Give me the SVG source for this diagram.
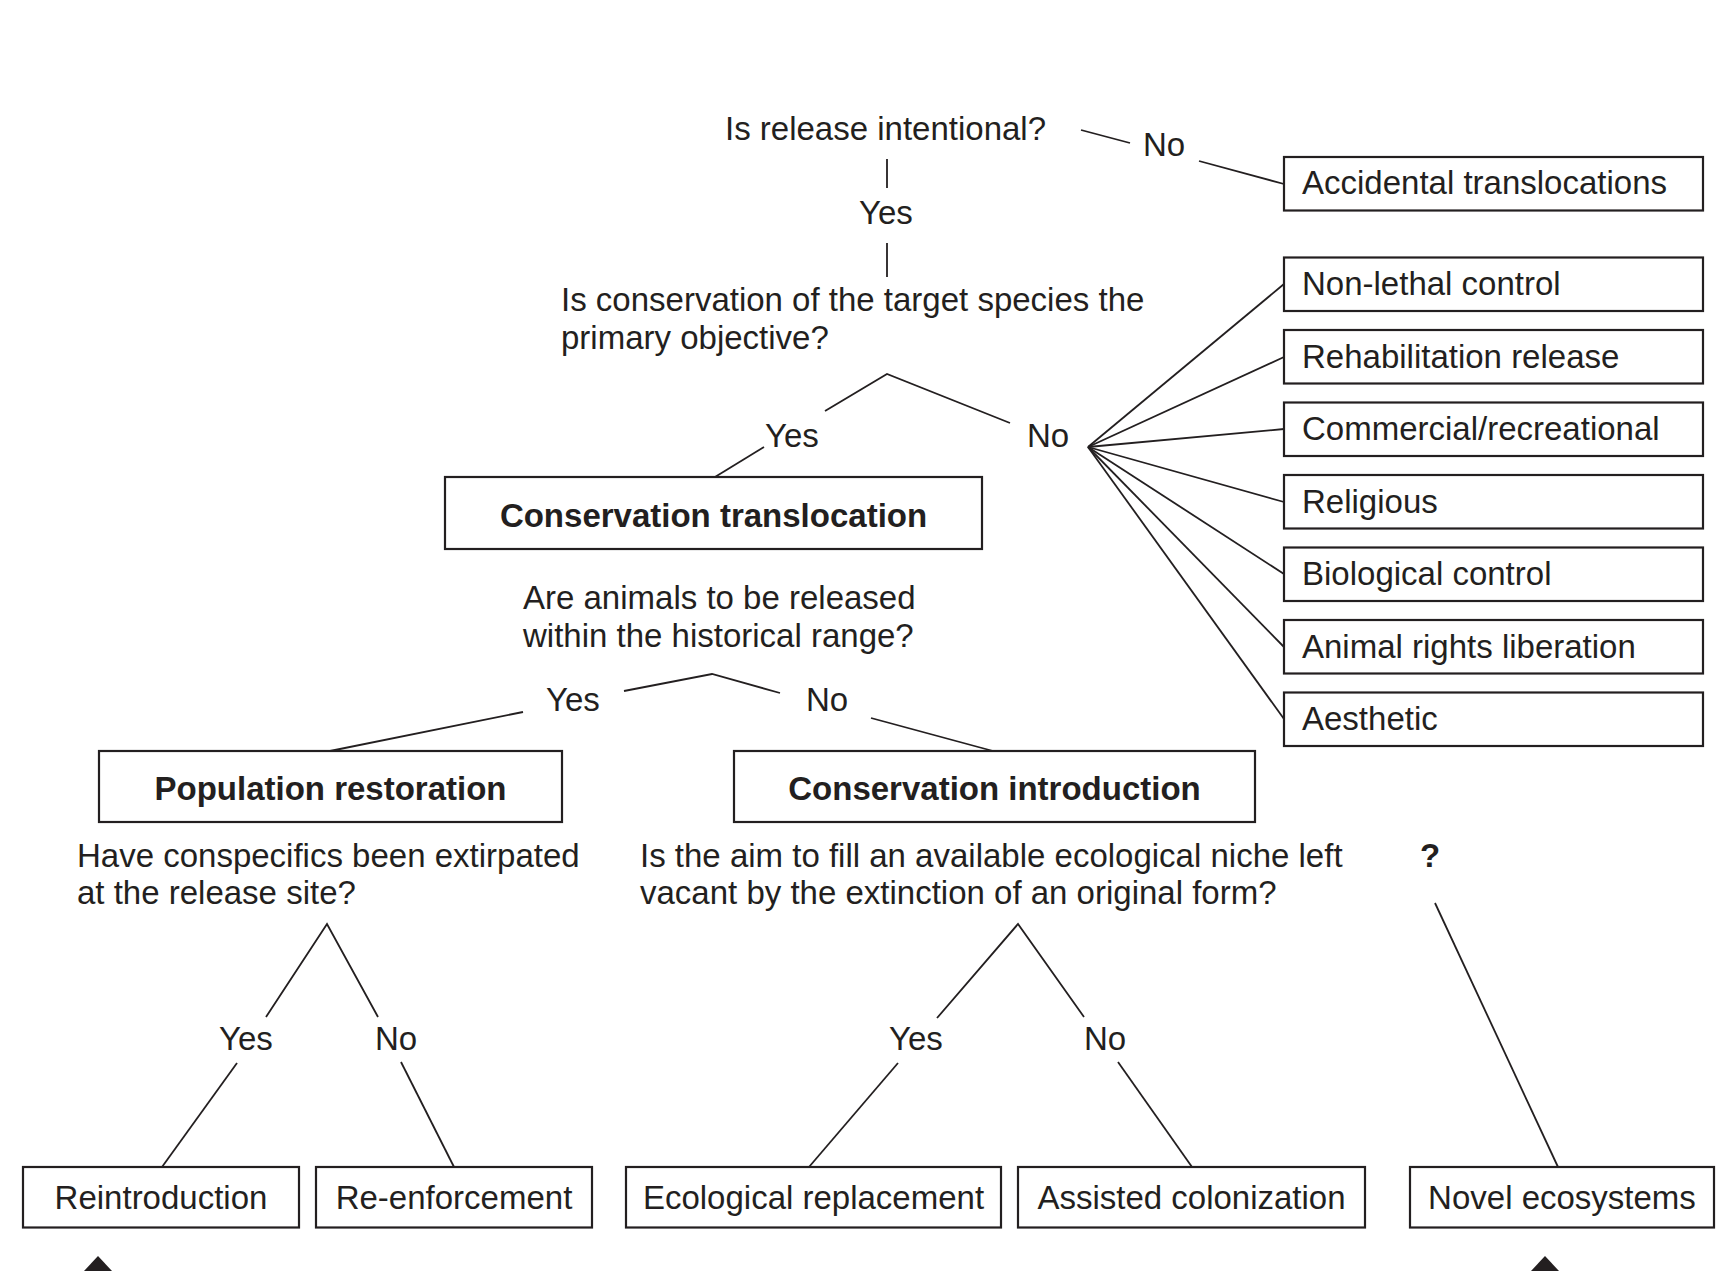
<svg xmlns="http://www.w3.org/2000/svg" width="1718" height="1271" viewBox="0 0 1718 1271">
<style>
.t{font-family:"Liberation Sans",Arial,sans-serif;font-size:33px;fill:#231f20}
.b{font-weight:bold}
.c{text-anchor:middle}
.box{fill:#fff;stroke:#231f20;stroke-width:2.2}
.ln{stroke:#231f20;stroke-width:1.8;fill:none}
</style>
<rect width="1718" height="1271" fill="#fff"/>
<g id="connectors">
<line class="ln" x1="887" y1="159" x2="887" y2="188"/>
<line class="ln" x1="887" y1="243" x2="887" y2="277"/>
<line class="ln" x1="1081" y1="130" x2="1130" y2="143"/>
<line class="ln" x1="1199" y1="161" x2="1284" y2="184"/>
<polyline class="ln" points="825,411 887,374 1010,423"/>
<line class="ln" x1="764" y1="447" x2="715" y2="477"/>
<line class="ln" x1="1088" y1="447" x2="1284" y2="284"/>
<line class="ln" x1="1088" y1="447" x2="1284" y2="357"/>
<line class="ln" x1="1088" y1="447" x2="1284" y2="429"/>
<line class="ln" x1="1088" y1="447" x2="1284" y2="502"/>
<line class="ln" x1="1088" y1="447" x2="1284" y2="574"/>
<line class="ln" x1="1088" y1="447" x2="1284" y2="647"/>
<line class="ln" x1="1088" y1="447" x2="1284" y2="719"/>
<polyline class="ln" points="624,691 712,674 780,693"/>
<line class="ln" x1="523" y1="712" x2="330" y2="751"/>
<line class="ln" x1="871" y1="718" x2="993" y2="751"/>
<polyline class="ln" points="266,1017 327,924 378,1017"/>
<line class="ln" x1="237" y1="1063" x2="162" y2="1167"/>
<line class="ln" x1="401" y1="1062" x2="454" y2="1167"/>
<polyline class="ln" points="937,1018 1018,924 1084,1017"/>
<line class="ln" x1="898" y1="1063" x2="809" y2="1167"/>
<line class="ln" x1="1118" y1="1062" x2="1192" y2="1167"/>
<line class="ln" x1="1435" y1="903" x2="1558" y2="1167"/>
</g>
<g id="labels">
<text class="t" x="725" y="140">Is release intentional?</text>
<text class="t" x="1143" y="156">No</text>
<text class="t" x="859" y="224">Yes</text>
<text class="t" x="561" y="311">Is conservation of the target species the</text>
<text class="t" x="561" y="349">primary objective?</text>
<text class="t" x="765" y="447">Yes</text>
<text class="t" x="1027" y="447">No</text>
<text class="t" x="523" y="609">Are animals to be released</text>
<text class="t" x="523" y="647">within the historical range?</text>
<text class="t" x="546" y="711">Yes</text>
<text class="t" x="806" y="711">No</text>
<text class="t" x="77" y="867">Have conspecifics been extirpated</text>
<text class="t" x="77" y="904">at the release site?</text>
<text class="t" x="640" y="867">Is the aim to fill an available ecological niche left</text>
<text class="t" x="640" y="904">vacant by the extinction of an original form?</text>
<text class="t b" x="1420" y="867">?</text>
<text class="t" x="219" y="1050">Yes</text>
<text class="t" x="375" y="1050">No</text>
<text class="t" x="889" y="1050">Yes</text>
<text class="t" x="1084" y="1050">No</text>
</g>
<g id="accidental"><rect class="box" x="1284" y="157" width="419" height="53.5"/><text class="t" x="1302" y="194">Accidental translocations</text></g>
<g id="nonlethal"><rect class="box" x="1284" y="257.5" width="419" height="53.5"/><text class="t" x="1302" y="295">Non-lethal control</text></g>
<g id="rehab"><rect class="box" x="1284" y="330" width="419" height="53.5"/><text class="t" x="1302" y="367.5">Rehabilitation release</text></g>
<g id="commercial"><rect class="box" x="1284" y="402.5" width="419" height="53.5"/><text class="t" x="1302" y="440">Commercial/recreational</text></g>
<g id="religious"><rect class="box" x="1284" y="475" width="419" height="53.5"/><text class="t" x="1302" y="512.5">Religious</text></g>
<g id="biocontrol"><rect class="box" x="1284" y="547.5" width="419" height="53.5"/><text class="t" x="1302" y="585">Biological control</text></g>
<g id="animalrights"><rect class="box" x="1284" y="620" width="419" height="53.5"/><text class="t" x="1302" y="657.5">Animal rights liberation</text></g>
<g id="aesthetic"><rect class="box" x="1284" y="692.5" width="419" height="53.5"/><text class="t" x="1302" y="730">Aesthetic</text></g>
<g id="constrans"><rect class="box" x="445" y="477" width="537" height="72"/><text class="t b c" x="713.5" y="527">Conservation translocation</text></g>
<g id="poprest"><rect class="box" x="99" y="751" width="463" height="71"/><text class="t b c" x="330.5" y="800">Population restoration</text></g>
<g id="consintro"><rect class="box" x="734" y="751" width="521" height="71"/><text class="t b c" x="994.5" y="800">Conservation introduction</text></g>
<g id="reintro"><rect class="box" x="23" y="1167" width="276" height="60.5"/><text class="t c" x="161" y="1209">Reintroduction</text></g>
<g id="reenf"><rect class="box" x="316" y="1167" width="276" height="60.5"/><text class="t c" x="454" y="1209">Re-enforcement</text></g>
<g id="ecorep"><rect class="box" x="626" y="1167" width="375" height="60.5"/><text class="t c" x="813.5" y="1209">Ecological replacement</text></g>
<g id="assisted"><rect class="box" x="1018" y="1167" width="347" height="60.5"/><text class="t c" x="1191.5" y="1209">Assisted colonization</text></g>
<g id="novel"><rect class="box" x="1410" y="1167" width="304" height="60.5"/><text class="t c" x="1562" y="1209">Novel ecosystems</text></g>
<g id="arrows">
<polygon points="98,1256 112,1271 84,1271" fill="#231f20"/>
<polygon points="1545,1256 1559,1271 1531,1271" fill="#231f20"/>
</g>
</svg>
